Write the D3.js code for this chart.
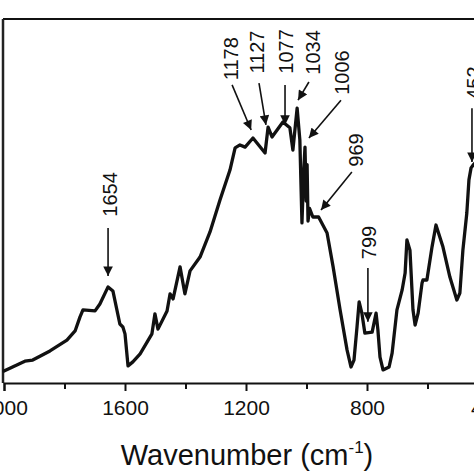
<!DOCTYPE html>
<html>
<head>
<meta charset="utf-8">
<script src="https://cdn.jsdelivr.net/npm/d3@7"></script>
<style>
	body { margin: 0; background: #fff; }
	svg { display: block; overflow: hidden; }
	text { font-family: "Liberation Sans", Arial, sans-serif; fill: #111; }
</style>
</head>
<body>
<svg></svg>
<script>
// spectrum: wavenumber (cm-1) and transmittance (a.u.)
const wavenumbers = [2000, 1931, 1905, 1848, 1792, 1765, 1749, 1739, 1699, 1683, 1656, 1640, 1617, 1607, 1600,
	1590, 1574, 1550, 1511, 1501, 1491, 1461, 1451, 1441, 1418, 1402, 1385, 1352, 1319, 1286, 1253, 1236,
	1220, 1203, 1177, 1137, 1127, 1114, 1078, 1055, 1045, 1031, 1022, 1015, 1009, 1005, 1001, 998, 995,
	990, 979, 960, 932, 912, 889, 866, 853, 843, 833, 826, 817, 807, 783, 770, 764, 757, 747, 727, 717,
	701, 684, 674, 668, 658, 648, 641, 631, 618, 615, 602, 585, 572, 549, 526, 503, 493, 483, 470, 463,
	456, 449, 440, 420, 400];
const transmittance = [3.3, 6.0, 6.3, 8.8, 11.8, 14.3, 18.1, 20.1, 19.8, 21.7, 26.4, 25.3, 16.2, 15.4, 13.5,
	4.7, 5.8, 8.0, 13.5, 19.0, 14.8, 19.8, 24.5, 23.1, 31.9, 24.5, 30.8, 34.6, 41.5, 50.3, 58.5, 64.6,
	65.4, 64.8, 67.3, 63.2, 70.3, 67.6, 71.7, 70.1, 64.0, 75.5, 66.8, 44.0, 58.5, 64.8, 50.0, 60.0, 44.5,
	48.0, 45.6, 45.6, 41.2, 31.9, 20.1, 9.1, 4.4, 6.3, 15.4, 22.3, 19.2, 13.7, 14.0, 19.2, 14.6, 7.1, 3.6,
	4.4, 8.2, 20.1, 25.5, 30.2, 39.3, 36.5, 20.1, 15.9, 19.2, 27.5, 28.3, 28.3, 37.4, 43.4, 37.4, 29.1,
	22.8, 24.7, 36.5, 46.7, 55.8, 59.1, 59.9, 60.7, 61.0, 61.0];

const majorTicks = [2000, 1600, 1200, 800, 400];
const minorTicks = [1800, 1400, 1000, 600];

// peak labels: text centre (wavenumber, value), arrow from -> to
const peakLabels = ['1654', '1178', '1127', '1077', '1034', '1006', '969', '799', '452'];
const labelAt = [[1650, 51.8], [1250, 89.1], [1164, 90.9], [1068, 91.1], [979, 90.8], [883, 85.3], [836, 64.0], [793, 38.6], [446, 82.4]];
const arrowFrom = [[1656, 42.6], [1246, 81.9], [1157, 82.4], [1071, 81.9], [992, 82.7], [886, 77.7], [850, 58.0], [797, 31.6], [453, 75.5]];
const arrowTo = [[1656, 29.4], [1183, 69.5], [1134, 70.9], [1071, 70.9], [1028, 77.7], [992, 67.3], [952, 47.5], [797, 16.8], [453, 60.7]];

const width = 474;
const height = 474;
const margin = { top: 19, left: 4, right: 488, bottom: 383 };

const svg = d3.select('svg')
	.attr('width', width)
	.attr('height', height);

const data = wavenumbers.map((w, i) => ({ w: w, t: transmittance[i] }));

const xScale = d3.scaleLinear()
	.domain([2000, 400])
	.range([margin.left, margin.right]);

const yScale = d3.scaleLinear()
	.domain([0, 100])
	.range([margin.bottom, margin.top]);

svg.append('defs').append('marker')
	.attr('id', 'head')
	.attr('viewBox', '0 0 10 10')
	.attr('refX', 10)
	.attr('refY', 5)
	.attr('markerWidth', 6.5)
	.attr('markerHeight', 6)
	.attr('markerUnits', 'strokeWidth')
	.attr('orient', 'auto')
	.append('path')
		.attr('d', 'M0,0L10,5L0,10Z')
		.attr('fill', '#111');

// frame: top and left lines
svg.append('line')
	.attr('x1', margin.left - 1).attr('x2', width)
	.attr('y1', margin.top).attr('y2', margin.top)
	.attr('stroke', '#111').attr('stroke-width', 2);
svg.append('line')
	.attr('x1', margin.left - 1).attr('x2', margin.left - 1)
	.attr('y1', margin.top).attr('y2', margin.bottom)
	.attr('stroke', '#222').attr('stroke-width', 2.5);

const xAxis = d3.axisBottom(xScale)
	.tickValues(majorTicks)
	.tickFormat(d3.format('d'))
	.tickSize(8)
	.tickPadding(9);

const xAxisG = svg.append('g')
	.attr('transform', `translate(0,${margin.bottom})`)
	.call(xAxis);
xAxisG.select('.domain').attr('stroke-width', 2).attr('stroke', '#111');
xAxisG.selectAll('.tick line').attr('stroke-width', 2).attr('stroke', '#111');
xAxisG.selectAll('.tick text')
	.attr('font-size', 21)
	.attr('font-family', '"Liberation Sans", Arial, sans-serif')
	.attr('fill', '#111');

const minorG = svg.append('g')
	.attr('transform', `translate(0,${margin.bottom})`)
	.call(d3.axisBottom(xScale).tickValues(minorTicks).tickFormat('').tickSize(6));
minorG.select('.domain').remove();
minorG.selectAll('.tick line').attr('stroke-width', 2).attr('stroke', '#111');

const title = svg.append('text')
	.attr('x', 247)
	.attr('y', 465)
	.attr('text-anchor', 'middle')
	.attr('font-size', 29);
title.append('tspan').text('Wavenumber (cm');
title.append('tspan').attr('font-size', 17).attr('dy', -12).text('-1');
title.append('tspan').attr('dy', 12).text(')');

const line = d3.line()
	.x(d => xScale(d.w))
	.y(d => yScale(d.t));

svg.append('path')
	.datum(data)
	.attr('d', line)
	.attr('fill', 'none')
	.attr('stroke', '#111')
	.attr('stroke-width', 3.3)
	.attr('stroke-linejoin', 'round')
	.attr('stroke-linecap', 'round');

const ann = svg.selectAll('g.peak').data(peakLabels)
	.enter().append('g')
	.attr('class', 'peak');

ann.append('line')
	.attr('x1', (d, i) => xScale(arrowFrom[i][0]))
	.attr('y1', (d, i) => yScale(arrowFrom[i][1]))
	.attr('x2', (d, i) => xScale(arrowTo[i][0]))
	.attr('y2', (d, i) => yScale(arrowTo[i][1]))
	.attr('stroke', '#111')
	.attr('stroke-width', 1.6)
	.attr('marker-end', 'url(#head)');

ann.append('text')
	.attr('transform', (d, i) => `translate(${xScale(labelAt[i][0])},${yScale(labelAt[i][1])}) rotate(-90)`)
	.attr('text-anchor', 'middle')
	.attr('dominant-baseline', 'central')
	.attr('font-size', 20)
	.text(d => d);
</script>
</body>
</html>
